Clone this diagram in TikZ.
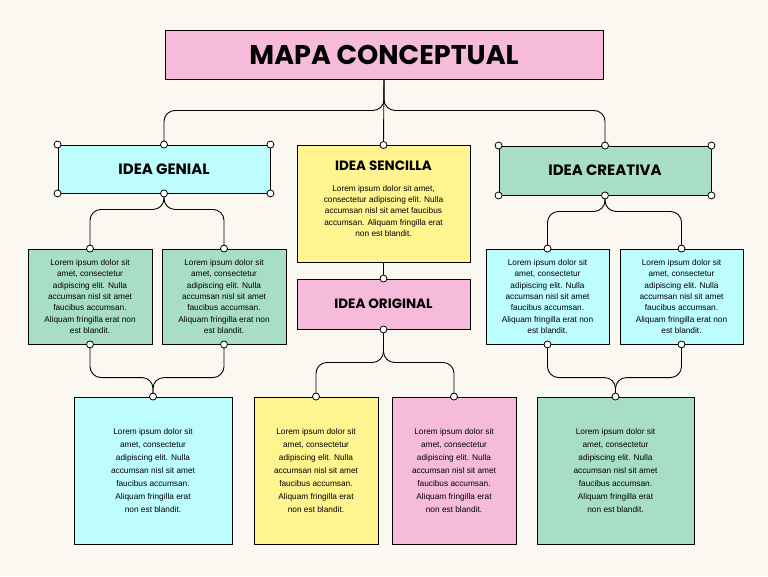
\documentclass[tikz,border=0pt]{standalone}
\usepackage{fontspec}
\setmainfont{Liberation Sans}
\newfontfamily\headfont{Poppins}
\usetikzlibrary{calc}
\definecolor{bg}{HTML}{FBF8F1}
\definecolor{cpink}{HTML}{F6BBDB}
\definecolor{ccyan}{HTML}{BDFDFE}
\definecolor{cyel}{HTML}{FFF48F}
\definecolor{cgreen}{HTML}{A9DEC6}
\tikzset{
 box/.style={draw=black, line width=0.9pt, inner sep=0pt, align=center, font=\fontsize{8.3}{11.4}\selectfont},
 bigbox/.style={box, font=\fontsize{8.3}{13}\selectfont},
 head/.style={font=\headfont\bfseries\fontsize{15}{16}\selectfont},
 conn/.style={draw=black, line width=0.9pt, rounded corners=11pt},
 dot/.style={circle, draw=black, fill=white, line width=0.8pt, minimum size=7pt, inner sep=0pt},
}
\begin{document}
\begin{tikzpicture}[x=1pt,y=-1pt]
\fill[bg] (0,0) rectangle (768,576);
\useasboundingbox (0,0) rectangle (768,576);
\def\lorem{Lorem ipsum dolor sit\\amet, consectetur\\adipiscing elit. Nulla\\accumsan nisl sit amet\\faucibus accumsan.\\Aliquam fringilla erat}
% title
\node[box, fill=cpink, minimum width=438pt, minimum height=49pt, font=\headfont\bfseries\fontsize{27}{28}\selectfont] (title) at (384,54.5) {MAPA CONCEPTUAL};
\node[box, fill=ccyan, minimum width=212pt, minimum height=48pt, head] (genial) at (164,169) {IDEA GENIAL};
\node[box, fill=cyel, minimum width=173pt, minimum height=117pt, anchor=north] (sencilla) at (383.5,145) {};
\node[head, font=\headfont\bfseries\fontsize{13.5}{14}\selectfont] (sencT) at (383.5,166) {IDEA SENCILLA};
\node[align=center, font=\fontsize{8.3}{11.4}\selectfont] (sencB) at (383.5,211) {Lorem ipsum dolor sit amet,\\consectetur adipiscing elit. Nulla\\accumsan nisl sit amet faucibus\\accumsan. Aliquam fringilla erat\\non est blandit.};
\node[box, fill=cpink, minimum width=173pt, minimum height=50pt, head, font=\headfont\bfseries\fontsize{13.5}{14}\selectfont] (original) at (383.5,304) {IDEA ORIGINAL};
\node[box, fill=cgreen, minimum width=212pt, minimum height=49pt, head] (creativa) at (605,170.5) {IDEA CREATIVA};
% small boxes
\node[box, fill=cgreen, minimum width=124pt, minimum height=95pt] (A) at (90,296.5) {\lorem{} non\\est blandit.};
\node[box, fill=cgreen, minimum width=124pt, minimum height=95pt] (B) at (224,296.5) {\lorem{} non\\est blandit.};
\node[box, fill=ccyan, minimum width=123pt, minimum height=95pt] (C) at (547.5,296.5) {\lorem{} non\\est blandit.};
\node[box, fill=ccyan, minimum width=123pt, minimum height=95pt] (D) at (681.5,296.5) {\lorem{} non\\est blandit.};
% bottom boxes
\node[bigbox, fill=ccyan, minimum width=158pt, minimum height=147pt] (E) at (153,470.5) {\lorem\\non est blandit.};
\node[bigbox, fill=cyel, minimum width=124pt, minimum height=147pt] (F) at (316,470.5) {\lorem\\non est blandit.};
\node[bigbox, fill=cpink, minimum width=124pt, minimum height=147pt] (G) at (454,470.5) {\lorem\\non est blandit.};
\node[bigbox, fill=cgreen, minimum width=157pt, minimum height=147pt] (H) at (615.5,470.5) {\lorem\\non est blandit.};
% connectors
\draw[conn] (title.south) -- ++(0,31) -| (genial.north);
\draw[conn] (title.south) -- ++(0,31) -| (creativa.north);
\draw[conn] (title.south) -- (sencilla.north);
\draw[conn] (sencilla.south) -- (original.north);
\draw[conn] (genial.south) -- ++(0,16) -| (A.north);
\draw[conn] (genial.south) -- ++(0,16) -| (B.north);
\draw[conn] (creativa.south) -- ++(0,16) -| (C.north);
\draw[conn] (creativa.south) -- ++(0,16) -| (D.north);
\draw[conn] (original.south) -- ++(0,33) -| (F.north);
\draw[conn] (original.south) -- ++(0,33) -| (G.north);
\draw[conn] (A.south) |- ($(E.north)+(0,-19)$) -- (E.north);
\draw[conn] (B.south) |- ($(E.north)+(0,-19)$) -- (E.north);
\draw[conn] (C.south) |- ($(H.north)+(0,-19)$) -- (H.north);
\draw[conn] (D.south) |- ($(H.north)+(0,-19)$) -- (H.north);
% dots
\foreach \n in {genial,creativa}{
  \foreach \a in {north west,north east,south west,south east,north,south}
    \node[dot] (\n-\a) at (\n.\a) {};
}
\node[dot] (d1) at (sencilla.north) {};
\node[dot] (d2) at (original.north) {};
\node[dot] (d3) at (original.south) {};
\foreach \n in {A,B,C,D}{
  \node[dot] (\n-n) at (\n.north) {};
  \node[dot] (\n-s) at (\n.south) {};
}
\foreach \n in {E,F,G,H}{
  \node[dot] (\n-n) at (\n.north) {};
}
\end{tikzpicture}
\end{document}
